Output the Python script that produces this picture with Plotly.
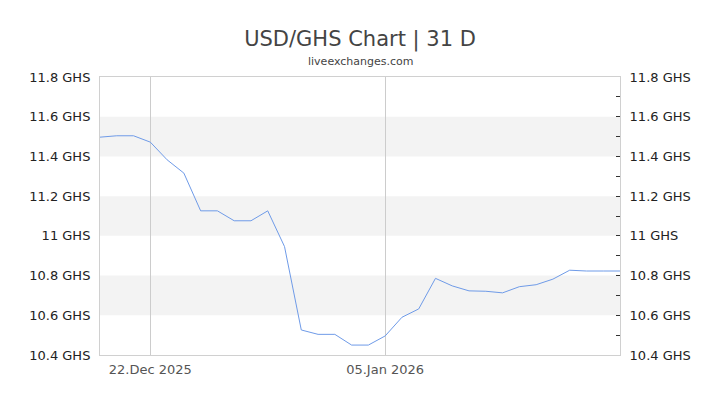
import plotly.graph_objects as go
import pandas as pd

# Datos (USD/GHS, 31 días)
fechas = pd.date_range("2025-12-19", "2026-01-19", freq="D")
valores = [
    11.497, 11.504, 11.504, 11.472, 11.383, 11.316, 11.126, 11.126,
    11.076, 11.076, 11.126, 10.946, 10.526, 10.504, 10.504, 10.450,
    10.450, 10.496, 10.590, 10.632, 10.786, 10.748, 10.723, 10.721,
    10.713, 10.744, 10.754, 10.782, 10.827, 10.823, 10.823, 10.823,
]

y_ticks = [10.4, 10.6, 10.8, 11.0, 11.2, 11.4, 11.6, 11.8]
y_labels = ["10.4 GHS", "10.6 GHS", "10.8 GHS", "11 GHS",
            "11.2 GHS", "11.4 GHS", "11.6 GHS", "11.8 GHS"]
x_ticks = ["2025-12-22", "2026-01-05"]
x_labels = ["22.Dec 2025", "05.Jan 2026"]
bandas = [(10.6, 10.8), (11.0, 11.2), (11.4, 11.6)]

FUENTE = "DejaVu Sans"

fig = go.Figure()

fig.add_trace(go.Scatter(
    x=fechas, y=valores, mode="lines",
    line=dict(color="#6f9be8", width=1),
    showlegend=False, hoverinfo="x+y",
))
# copia invisible para que se dibuje el eje derecho
fig.add_trace(go.Scatter(
    x=fechas, y=valores, mode="lines", yaxis="y2",
    line=dict(color="rgba(0,0,0,0)", width=0),
    showlegend=False, hoverinfo="skip",
))

# bandas grises alternas
for y0, y1 in bandas:
    fig.add_shape(type="rect", xref="paper", yref="y", x0=0, x1=1, y0=y0, y1=y1,
                  fillcolor="#f3f3f3", line=dict(width=0), layer="below")

fig.update_layout(
    width=720, height=405,
    margin=dict(l=100, r=100, t=77, b=50),
    plot_bgcolor="white", paper_bgcolor="white",
    font=dict(family=FUENTE, size=13, color="#222"),
    title=dict(text="USD/GHS Chart | 31 D", x=0.5, xanchor="center",
               y=0.905, yanchor="middle",
               font=dict(family=FUENTE, size=21, color="#444")),
    annotations=[dict(text="liveexchanges.com", xref="paper", yref="paper",
                      x=0.5, y=1.055, xanchor="center", yanchor="middle",
                      showarrow=False, font=dict(family=FUENTE, size=11, color="#444"))],
    xaxis=dict(
        type="date", range=[fechas[0], fechas[-1]],
        tickvals=x_ticks, ticktext=x_labels,
        showgrid=True, gridcolor="#cccccc", gridwidth=1,
        showline=True, linecolor="#d0d0d0", mirror=True,
        ticks="", zeroline=False, ticklabelstandoff=2,
        tickfont=dict(family=FUENTE, size=13, color="#555"),
    ),
    yaxis=dict(
        range=[10.4, 11.8], tickvals=y_ticks, ticktext=y_labels,
        showgrid=False, zeroline=False, automargin=False,
        showline=True, linecolor="#d0d0d0",
        ticks="", ticklabelstandoff=6,
        tickfont=dict(family=FUENTE, size=13, color="#222"),
    ),
    yaxis2=dict(
        range=[10.4, 11.8], overlaying="y", side="right", automargin=False,
        tickvals=y_ticks, ticktext=y_labels,
        showgrid=False, zeroline=False,
        showline=True, linecolor="#d0d0d0",
        ticks="inside", ticklen=4, tickcolor="#333", ticklabelstandoff=6,
        minor=dict(dtick=0.1, tick0=10.4, ticks="inside", ticklen=4, tickcolor="#333"),
        tickfont=dict(family=FUENTE, size=13, color="#222"),
    ),
)

fig.write_html("out.html", config={"displayModeBar": False},
               post_script="document.body.style.margin='0';")
